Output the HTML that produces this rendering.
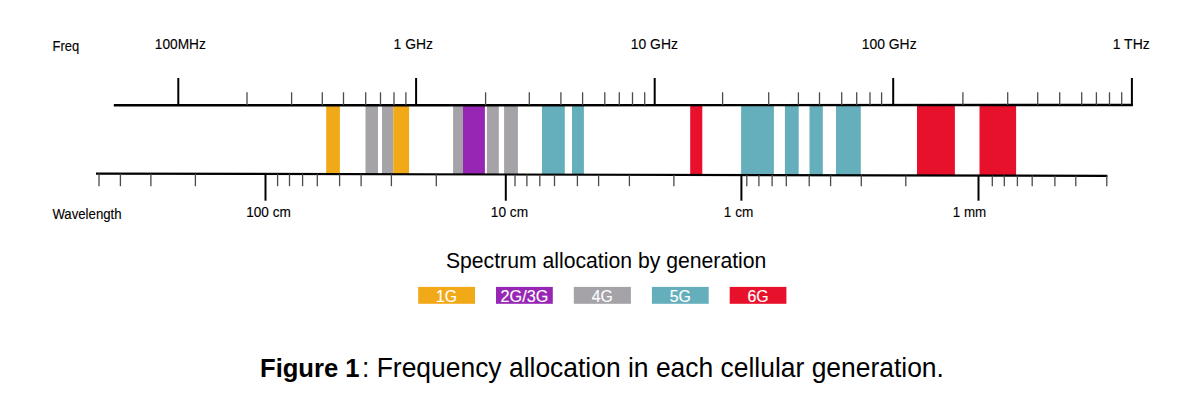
<!DOCTYPE html>
<html><head><meta charset="utf-8"><style>
html,body{margin:0;padding:0;background:#fff;}
body{width:1195px;height:399px;overflow:hidden;}
svg{display:block;}
text{font-family:"Liberation Sans",sans-serif;}
text.k{stroke:#000;stroke-width:0.12px;}
</style></head><body>
<svg width="1195" height="399" viewBox="0 0 1195 399">
<rect x="326.2" y="105.5" width="13.7" height="68.6" fill="#F2A918"/>
<rect x="365.5" y="105.5" width="12.5" height="68.7" fill="#A5A2A8"/>
<rect x="382.0" y="105.5" width="11.3" height="68.7" fill="#A5A2A8"/>
<rect x="393.3" y="105.5" width="15.8" height="68.8" fill="#F2A918"/>
<rect x="453.1" y="105.5" width="9.9" height="68.9" fill="#A5A2A8"/>
<rect x="463.0" y="105.5" width="21.9" height="68.9" fill="#9626B3"/>
<rect x="486.9" y="105.5" width="11.9" height="69.0" fill="#A5A2A8"/>
<rect x="504.1" y="105.5" width="13.8" height="69.0" fill="#A5A2A8"/>
<rect x="542.0" y="105.5" width="22.8" height="69.1" fill="#65AFBC"/>
<rect x="572.0" y="105.5" width="11.9" height="69.1" fill="#65AFBC"/>
<rect x="690.2" y="105.5" width="12.1" height="69.4" fill="#E8112B"/>
<rect x="741.1" y="105.5" width="32.8" height="69.5" fill="#65AFBC"/>
<rect x="784.9" y="105.5" width="13.8" height="69.6" fill="#65AFBC"/>
<rect x="809.5" y="105.5" width="13.3" height="69.7" fill="#65AFBC"/>
<rect x="836.0" y="105.5" width="24.8" height="69.7" fill="#65AFBC"/>
<rect x="917.0" y="105.5" width="37.9" height="69.9" fill="#E8112B"/>
<rect x="979.5" y="105.5" width="36.6" height="70.1" fill="#E8112B"/>
<line x1="113.8" y1="105.3" x2="1132.9" y2="105.0" stroke="#000" stroke-width="2.4"/>
<line x1="178.3" y1="78" x2="178.3" y2="105" stroke="#000" stroke-width="2"/>
<line x1="416.1" y1="78" x2="416.1" y2="105" stroke="#000" stroke-width="2"/>
<line x1="654.7" y1="78" x2="654.7" y2="105" stroke="#000" stroke-width="2"/>
<line x1="893.2" y1="78" x2="893.2" y2="105" stroke="#000" stroke-width="2"/>
<line x1="1131.9" y1="78" x2="1131.9" y2="105" stroke="#000" stroke-width="2"/>
<line x1="247.0" y1="92.3" x2="247.0" y2="105" stroke="#4a4a4a" stroke-width="1.3"/>
<line x1="291.6" y1="92.3" x2="291.6" y2="105" stroke="#4a4a4a" stroke-width="1.3"/>
<line x1="322.3" y1="92.3" x2="322.3" y2="105" stroke="#4a4a4a" stroke-width="1.3"/>
<line x1="343.5" y1="92.3" x2="343.5" y2="105" stroke="#4a4a4a" stroke-width="1.3"/>
<line x1="365.7" y1="92.3" x2="365.7" y2="105" stroke="#4a4a4a" stroke-width="1.3"/>
<line x1="380.5" y1="92.3" x2="380.5" y2="105" stroke="#4a4a4a" stroke-width="1.3"/>
<line x1="394.0" y1="92.3" x2="394.0" y2="105" stroke="#4a4a4a" stroke-width="1.3"/>
<line x1="405.9" y1="92.3" x2="405.9" y2="105" stroke="#4a4a4a" stroke-width="1.3"/>
<line x1="485.6" y1="92.3" x2="485.6" y2="105" stroke="#4a4a4a" stroke-width="1.3"/>
<line x1="529.3" y1="92.3" x2="529.3" y2="105" stroke="#4a4a4a" stroke-width="1.3"/>
<line x1="560.9" y1="92.3" x2="560.9" y2="105" stroke="#4a4a4a" stroke-width="1.3"/>
<line x1="582.6" y1="92.3" x2="582.6" y2="105" stroke="#4a4a4a" stroke-width="1.3"/>
<line x1="604.8" y1="92.3" x2="604.8" y2="105" stroke="#4a4a4a" stroke-width="1.3"/>
<line x1="619.3" y1="92.3" x2="619.3" y2="105" stroke="#4a4a4a" stroke-width="1.3"/>
<line x1="632.5" y1="92.3" x2="632.5" y2="105" stroke="#4a4a4a" stroke-width="1.3"/>
<line x1="644.7" y1="92.3" x2="644.7" y2="105" stroke="#4a4a4a" stroke-width="1.3"/>
<line x1="722.6" y1="92.3" x2="722.6" y2="105" stroke="#4a4a4a" stroke-width="1.3"/>
<line x1="768.7" y1="92.3" x2="768.7" y2="105" stroke="#4a4a4a" stroke-width="1.3"/>
<line x1="798.4" y1="92.3" x2="798.4" y2="105" stroke="#4a4a4a" stroke-width="1.3"/>
<line x1="819.5" y1="92.3" x2="819.5" y2="105" stroke="#4a4a4a" stroke-width="1.3"/>
<line x1="841.7" y1="92.3" x2="841.7" y2="105" stroke="#4a4a4a" stroke-width="1.3"/>
<line x1="856.7" y1="92.3" x2="856.7" y2="105" stroke="#4a4a4a" stroke-width="1.3"/>
<line x1="870.0" y1="92.3" x2="870.0" y2="105" stroke="#4a4a4a" stroke-width="1.3"/>
<line x1="881.6" y1="92.3" x2="881.6" y2="105" stroke="#4a4a4a" stroke-width="1.3"/>
<line x1="962.9" y1="92.3" x2="962.9" y2="105" stroke="#4a4a4a" stroke-width="1.3"/>
<line x1="1007.7" y1="92.3" x2="1007.7" y2="105" stroke="#4a4a4a" stroke-width="1.3"/>
<line x1="1037.7" y1="92.3" x2="1037.7" y2="105" stroke="#4a4a4a" stroke-width="1.3"/>
<line x1="1059.7" y1="92.3" x2="1059.7" y2="105" stroke="#4a4a4a" stroke-width="1.3"/>
<line x1="1081.7" y1="92.3" x2="1081.7" y2="105" stroke="#4a4a4a" stroke-width="1.3"/>
<line x1="1096.4" y1="92.3" x2="1096.4" y2="105" stroke="#4a4a4a" stroke-width="1.3"/>
<line x1="1109.5" y1="92.3" x2="1109.5" y2="105" stroke="#4a4a4a" stroke-width="1.3"/>
<line x1="1121.7" y1="92.3" x2="1121.7" y2="105" stroke="#4a4a4a" stroke-width="1.3"/>
<line x1="96" y1="173.6" x2="1107.4" y2="175.8" stroke="#000" stroke-width="2.2"/>
<line x1="265.5" y1="174.0" x2="265.5" y2="200.7" stroke="#000" stroke-width="2"/>
<line x1="505.8" y1="174.5" x2="505.8" y2="200.7" stroke="#000" stroke-width="2"/>
<line x1="741.4" y1="175.0" x2="741.4" y2="200.7" stroke="#000" stroke-width="2"/>
<line x1="978.5" y1="175.5" x2="978.5" y2="200.7" stroke="#000" stroke-width="2"/>
<line x1="99.0" y1="173.6" x2="99.0" y2="186.2" stroke="#4a4a4a" stroke-width="1.3"/>
<line x1="120.4" y1="173.7" x2="120.4" y2="186.2" stroke="#4a4a4a" stroke-width="1.3"/>
<line x1="150.9" y1="173.7" x2="150.9" y2="186.2" stroke="#4a4a4a" stroke-width="1.3"/>
<line x1="195.4" y1="173.8" x2="195.4" y2="186.2" stroke="#4a4a4a" stroke-width="1.3"/>
<line x1="277.6" y1="174.0" x2="277.6" y2="186.2" stroke="#4a4a4a" stroke-width="1.3"/>
<line x1="289.5" y1="174.0" x2="289.5" y2="186.2" stroke="#4a4a4a" stroke-width="1.3"/>
<line x1="302.6" y1="174.0" x2="302.6" y2="186.2" stroke="#4a4a4a" stroke-width="1.3"/>
<line x1="317.3" y1="174.1" x2="317.3" y2="186.2" stroke="#4a4a4a" stroke-width="1.3"/>
<line x1="339.6" y1="174.1" x2="339.6" y2="186.2" stroke="#4a4a4a" stroke-width="1.3"/>
<line x1="361.1" y1="174.2" x2="361.1" y2="186.2" stroke="#4a4a4a" stroke-width="1.3"/>
<line x1="391.4" y1="174.2" x2="391.4" y2="186.2" stroke="#4a4a4a" stroke-width="1.3"/>
<line x1="436.3" y1="174.3" x2="436.3" y2="186.2" stroke="#4a4a4a" stroke-width="1.3"/>
<line x1="515.0" y1="174.5" x2="515.0" y2="186.2" stroke="#4a4a4a" stroke-width="1.3"/>
<line x1="526.9" y1="174.5" x2="526.9" y2="186.2" stroke="#4a4a4a" stroke-width="1.3"/>
<line x1="539.8" y1="174.6" x2="539.8" y2="186.2" stroke="#4a4a4a" stroke-width="1.3"/>
<line x1="554.5" y1="174.6" x2="554.5" y2="186.2" stroke="#4a4a4a" stroke-width="1.3"/>
<line x1="577.4" y1="174.6" x2="577.4" y2="186.2" stroke="#4a4a4a" stroke-width="1.3"/>
<line x1="598.6" y1="174.7" x2="598.6" y2="186.2" stroke="#4a4a4a" stroke-width="1.3"/>
<line x1="629.4" y1="174.8" x2="629.4" y2="186.2" stroke="#4a4a4a" stroke-width="1.3"/>
<line x1="673.9" y1="174.9" x2="673.9" y2="186.2" stroke="#4a4a4a" stroke-width="1.3"/>
<line x1="746.8" y1="175.0" x2="746.8" y2="186.2" stroke="#4a4a4a" stroke-width="1.3"/>
<line x1="758.9" y1="175.0" x2="758.9" y2="186.2" stroke="#4a4a4a" stroke-width="1.3"/>
<line x1="772.1" y1="175.1" x2="772.1" y2="186.2" stroke="#4a4a4a" stroke-width="1.3"/>
<line x1="786.3" y1="175.1" x2="786.3" y2="186.2" stroke="#4a4a4a" stroke-width="1.3"/>
<line x1="809.2" y1="175.2" x2="809.2" y2="186.2" stroke="#4a4a4a" stroke-width="1.3"/>
<line x1="830.6" y1="175.2" x2="830.6" y2="186.2" stroke="#4a4a4a" stroke-width="1.3"/>
<line x1="861.3" y1="175.3" x2="861.3" y2="186.2" stroke="#4a4a4a" stroke-width="1.3"/>
<line x1="905.8" y1="175.4" x2="905.8" y2="186.2" stroke="#4a4a4a" stroke-width="1.3"/>
<line x1="992.3" y1="175.5" x2="992.3" y2="186.2" stroke="#4a4a4a" stroke-width="1.3"/>
<line x1="1004.3" y1="175.6" x2="1004.3" y2="186.2" stroke="#4a4a4a" stroke-width="1.3"/>
<line x1="1017.4" y1="175.6" x2="1017.4" y2="186.2" stroke="#4a4a4a" stroke-width="1.3"/>
<line x1="1032.2" y1="175.6" x2="1032.2" y2="186.2" stroke="#4a4a4a" stroke-width="1.3"/>
<line x1="1054.9" y1="175.7" x2="1054.9" y2="186.2" stroke="#4a4a4a" stroke-width="1.3"/>
<line x1="1075.8" y1="175.7" x2="1075.8" y2="186.2" stroke="#4a4a4a" stroke-width="1.3"/>
<line x1="1106.8" y1="175.8" x2="1106.8" y2="186.2" stroke="#4a4a4a" stroke-width="1.3"/>
<text class="k" transform="translate(52.5,50.8) scale(1,1.07)" font-size="13.0" font-weight="normal" fill="#000" text-anchor="start" >Freq</text>
<text class="k" transform="translate(154.8,48.7) scale(1,1.07)" font-size="13.7" font-weight="normal" fill="#000" text-anchor="start" >100MHz</text>
<text class="k" transform="translate(393.6,48.6) scale(1,1.07)" font-size="13.9" font-weight="normal" fill="#000" text-anchor="start" >1 GHz</text>
<text class="k" transform="translate(630.8,48.8) scale(1,1.07)" font-size="13.9" font-weight="normal" fill="#000" text-anchor="start" >10 GHz</text>
<text class="k" transform="translate(861.8,48.8) scale(1,1.07)" font-size="13.9" font-weight="normal" fill="#000" text-anchor="start" >100 GHz</text>
<text class="k" transform="translate(1112.7,49.0) scale(1,1.07)" font-size="14.0" font-weight="normal" fill="#000" text-anchor="start" >1 THz</text>
<text class="k" transform="translate(52.4,218.7) scale(1,1.07)" font-size="13.2" font-weight="normal" fill="#000" text-anchor="start" >Wavelength</text>
<text class="k" transform="translate(246.2,216.7) scale(1,1.07)" font-size="13.6" font-weight="normal" fill="#000" text-anchor="start" >100 cm</text>
<text class="k" transform="translate(490.8,216.7) scale(1,1.07)" font-size="13.7" font-weight="normal" fill="#000" text-anchor="start" >10 cm</text>
<text class="k" transform="translate(723.8,216.7) scale(1,1.07)" font-size="13.6" font-weight="normal" fill="#000" text-anchor="start" >1 cm</text>
<text class="k" transform="translate(952.8,216.7) scale(1,1.07)" font-size="13.4" font-weight="normal" fill="#000" text-anchor="start" >1 mm</text>
<text class="" transform="translate(445.9,268.3) scale(1,1.03)" font-size="21.2" font-weight="normal" fill="#010101" text-anchor="start" >Spectrum allocation by generation</text>
<rect x="418.2" y="286.9" width="56.8" height="16.9" fill="#F2A918"/>
<text class="" x="446.6" y="302.0" font-size="15.8" font-weight="normal" fill="#fff" text-anchor="middle" stroke="#fff" stroke-width="0.15">1G</text>
<rect x="496.0" y="286.9" width="56.8" height="16.9" fill="#9626B3"/>
<text class="" x="524.4" y="302.0" font-size="16.2" font-weight="normal" fill="#fff" text-anchor="middle" stroke="#fff" stroke-width="0.15">2G/3G</text>
<rect x="573.8" y="286.9" width="57.1" height="16.9" fill="#A5A2A8"/>
<text class="" x="602.3" y="302.0" font-size="15.8" font-weight="normal" fill="#fff" text-anchor="middle" stroke="#fff" stroke-width="0.15">4G</text>
<rect x="651.9" y="286.9" width="56.8" height="16.9" fill="#65AFBC"/>
<text class="" x="680.3" y="302.0" font-size="15.8" font-weight="normal" fill="#fff" text-anchor="middle" stroke="#fff" stroke-width="0.15">5G</text>
<rect x="729.7" y="286.9" width="56.7" height="16.9" fill="#E8112B"/>
<text class="" x="758.0" y="302.0" font-size="15.8" font-weight="normal" fill="#fff" text-anchor="middle" stroke="#fff" stroke-width="0.15">6G</text>
<text transform="translate(260.0,376.8) scale(1,1.03)" font-size="25.6" font-weight="bold">Figure 1</text>
<text transform="translate(362.0,376.8) scale(1,1.04)" font-size="26.45">: Frequency allocation in each cellular generation.</text>
</svg>
</body></html>
